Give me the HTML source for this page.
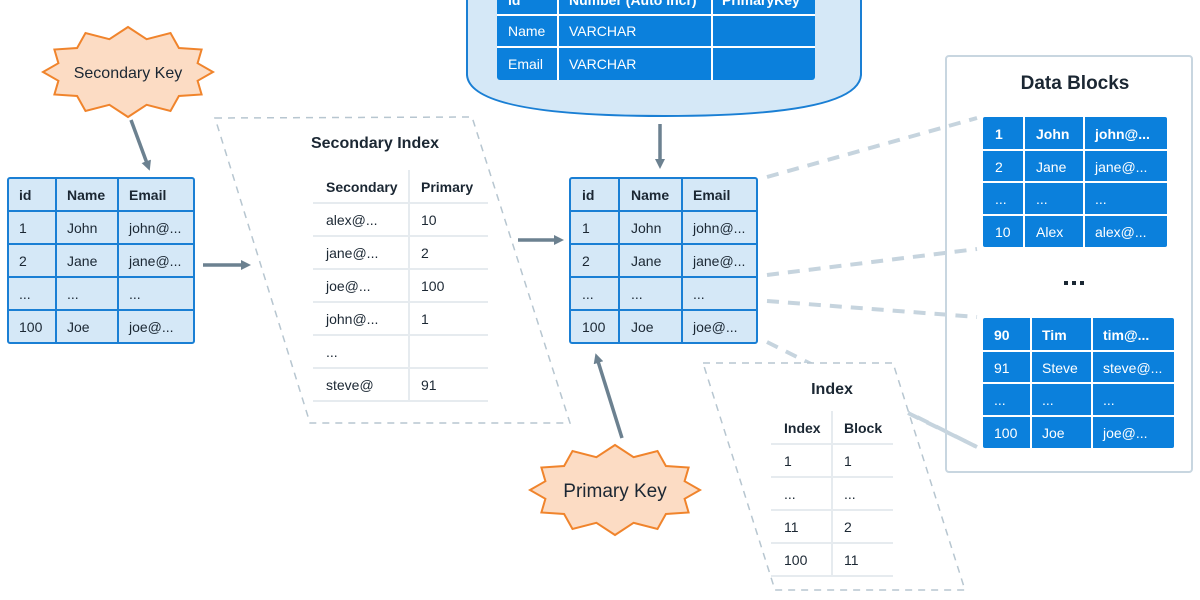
<!DOCTYPE html>
<html><head><meta charset="utf-8"><style>
html,body{margin:0;padding:0;background:#fff;}
svg{display:block;font-family:"Liberation Sans",sans-serif;}
.t{font-size:14px;fill:#1b2733;}
.b{font-weight:bold;}
.w{fill:#fff;}
</style></head><body>
<svg width="1200" height="600" viewBox="0 0 1200 600" xmlns="http://www.w3.org/2000/svg">
<defs>
<marker id="ah" markerWidth="10" markerHeight="10" refX="5" refY="5" orient="auto" markerUnits="userSpaceOnUse"><path d="M0,0 L10,5 L0,10 z" fill="#6c8190"/></marker>
</defs>

<!-- dashed connectors to data blocks -->
<g stroke="#c6d4de" stroke-width="4" stroke-dasharray="12,9" fill="none">
<line x1="767" y1="177" x2="977" y2="118"/>
<line x1="767" y1="275" x2="977" y2="249"/>
<line x1="767" y1="301" x2="977" y2="317"/>
<line x1="767" y1="342" x2="977" y2="447"/>
</g>

<!-- cylinder -->
<path d="M467,-10 L467,75 Q470,116 664,116 Q858,116 861,75 L861,-10 Z" fill="#d5e8f7" stroke="#1a7fd4" stroke-width="2"/>
<rect x="497" y="-18" width="318" height="98" rx="3" fill="#0b80dc"/>
<g stroke="#fff" stroke-width="2">
<line x1="497" y1="15" x2="815" y2="15"/><line x1="497" y1="47" x2="815" y2="47"/>
<line x1="558" y1="-18" x2="558" y2="80"/><line x1="712" y1="-18" x2="712" y2="80"/>
</g>
<g class="t w b"><text x="508" y="5" class="w b">id</text><text x="569" y="5" class="w b">Number (Auto Incr)</text><text x="722" y="5" class="w b">PrimaryKey</text></g>
<text x="508" y="36" class="t w">Name</text><text x="569" y="36" class="t w">VARCHAR</text>
<text x="508" y="69" class="t w">Email</text><text x="569" y="69" class="t w">VARCHAR</text>

<!-- secondary key star -->
<polygon id="star" points="213,72 197.6,80.8 201.6,94.5 178.9,96 170.5,111 146.6,104.8 128,117 109.4,104.8 85.5,111 77.1,96 54.4,94.5 58.4,80.8 43,72 58.4,63.2 54.4,49.5 77.1,48 85.5,33 109.4,39.2 128,27 146.6,39.2 170.5,33 178.9,48 201.6,49.5 197.6,63.2" fill="#fcdcc4" stroke="#f0842c" stroke-width="2"/>
<text x="128" y="78" class="t" text-anchor="middle" style="font-size:16px">Secondary Key</text>

<!-- primary key star -->
<g transform="translate(487,418)"><polygon points="213,72 197.6,80.8 201.6,94.5 178.9,96 170.5,111 146.6,104.8 128,117 109.4,104.8 85.5,111 77.1,96 54.4,94.5 58.4,80.8 43,72 58.4,63.2 54.4,49.5 77.1,48 85.5,33 109.4,39.2 128,27 146.6,39.2 170.5,33 178.9,48 201.6,49.5 197.6,63.2" fill="#fcdcc4" stroke="#f0842c" stroke-width="2"/></g>
<text x="615" y="497" class="t" text-anchor="middle" style="font-size:19px">Primary Key</text>

<!-- arrows -->
<g stroke="#6c8190" stroke-width="3.5" marker-end="url(#ah)">
<line x1="131" y1="120" x2="148" y2="166"/>
<line x1="203" y1="265" x2="246" y2="265"/>
<line x1="518" y1="240" x2="559" y2="240"/>
<line x1="660" y1="124" x2="660" y2="164"/>
<line x1="622" y1="438" x2="597" y2="358"/>
</g>

<!-- left table -->
<rect x="8" y="178" width="186" height="165" rx="2" fill="#d5e8f7" stroke="#1a7fd4" stroke-width="2"/>
<g stroke="#1a7fd4" stroke-width="2">
<line x1="8" y1="211" x2="194" y2="211"/><line x1="8" y1="244" x2="194" y2="244"/><line x1="8" y1="277" x2="194" y2="277"/><line x1="8" y1="310" x2="194" y2="310"/>
<line x1="56" y1="178" x2="56" y2="343"/><line x1="118" y1="178" x2="118" y2="343"/>
</g>
<g class="t">
<text x="19" y="200" class="t b">id</text><text x="67" y="200" class="t b">Name</text><text x="129" y="200" class="t b">Email</text>
<text x="19" y="233" class="t">1</text><text x="67" y="233" class="t">John</text><text x="129" y="233" class="t">john@...</text>
<text x="19" y="266" class="t">2</text><text x="67" y="266" class="t">Jane</text><text x="129" y="266" class="t">jane@...</text>
<text x="19" y="299" class="t">...</text><text x="67" y="299" class="t">...</text><text x="129" y="299" class="t">...</text>
<text x="19" y="332" class="t">100</text><text x="67" y="332" class="t">Joe</text><text x="129" y="332" class="t">joe@...</text>
</g>

<!-- secondary index parallelogram -->
<polygon points="215,118 472,117 570,423 310,423" fill="#fff" stroke="#b7c6d0" stroke-width="1.5" stroke-dasharray="7,6"/>
<text x="375" y="148" class="t b" text-anchor="middle" style="font-size:16px">Secondary Index</text>
<rect x="313" y="170" width="175" height="231" fill="#fff"/>
<g stroke="#e6ebef" stroke-width="2">
<line x1="313" y1="203" x2="488" y2="203"/><line x1="313" y1="236" x2="488" y2="236"/><line x1="313" y1="269" x2="488" y2="269"/><line x1="313" y1="302" x2="488" y2="302"/><line x1="313" y1="335" x2="488" y2="335"/><line x1="313" y1="368" x2="488" y2="368"/><line x1="313" y1="401" x2="488" y2="401"/>
<line x1="409" y1="170" x2="409" y2="401"/>
</g>
<text x="326" y="192" class="t b">Secondary</text><text x="421" y="192" class="t b">Primary</text>
<text x="326" y="225" class="t">alex@...</text><text x="421" y="225" class="t">10</text>
<text x="326" y="258" class="t">jane@...</text><text x="421" y="258" class="t">2</text>
<text x="326" y="291" class="t">joe@...</text><text x="421" y="291" class="t">100</text>
<text x="326" y="324" class="t">john@...</text><text x="421" y="324" class="t">1</text>
<text x="326" y="357" class="t">...</text>
<text x="326" y="390" class="t">steve@</text><text x="421" y="390" class="t">91</text>

<!-- middle table -->
<rect x="570" y="178" width="187" height="165" rx="2" fill="#d5e8f7" stroke="#1a7fd4" stroke-width="2"/>
<g stroke="#1a7fd4" stroke-width="2">
<line x1="570" y1="211" x2="757" y2="211"/><line x1="570" y1="244" x2="757" y2="244"/><line x1="570" y1="277" x2="757" y2="277"/><line x1="570" y1="310" x2="757" y2="310"/>
<line x1="619" y1="178" x2="619" y2="343"/><line x1="682" y1="178" x2="682" y2="343"/>
</g>
<text x="582" y="200" class="t b">id</text><text x="631" y="200" class="t b">Name</text><text x="693" y="200" class="t b">Email</text>
<text x="582" y="233" class="t">1</text><text x="631" y="233" class="t">John</text><text x="693" y="233" class="t">john@...</text>
<text x="582" y="266" class="t">2</text><text x="631" y="266" class="t">Jane</text><text x="693" y="266" class="t">jane@...</text>
<text x="582" y="299" class="t">...</text><text x="631" y="299" class="t">...</text><text x="693" y="299" class="t">...</text>
<text x="582" y="332" class="t">100</text><text x="631" y="332" class="t">Joe</text><text x="693" y="332" class="t">joe@...</text>

<!-- index parallelogram -->
<polygon points="703,363 893,363 965,590 775,590" fill="#fff" stroke="#b7c6d0" stroke-width="1.5" stroke-dasharray="7,6"/>
<line x1="908" y1="413" x2="977" y2="447" stroke="#c6d4de" stroke-width="4" stroke-dasharray="12,9"/>
<text x="832" y="394" class="t b" text-anchor="middle" style="font-size:16px">Index</text>
<rect x="771" y="411" width="122" height="165" fill="#fff"/>
<g stroke="#e6ebef" stroke-width="2">
<line x1="771" y1="444" x2="893" y2="444"/><line x1="771" y1="477" x2="893" y2="477"/><line x1="771" y1="510" x2="893" y2="510"/><line x1="771" y1="543" x2="893" y2="543"/><line x1="771" y1="576" x2="893" y2="576"/>
<line x1="832" y1="411" x2="832" y2="576"/>
</g>
<text x="784" y="433" class="t b">Index</text><text x="844" y="433" class="t b">Block</text>
<text x="784" y="466" class="t">1</text><text x="844" y="466" class="t">1</text>
<text x="784" y="499" class="t">...</text><text x="844" y="499" class="t">...</text>
<text x="784" y="532" class="t">11</text><text x="844" y="532" class="t">2</text>
<text x="784" y="565" class="t">100</text><text x="844" y="565" class="t">11</text>

<!-- data blocks box -->
<rect x="946" y="56" width="246" height="416" rx="3" fill="none" stroke="#c8d6e0" stroke-width="2"/>
<text x="1075" y="89" class="t b" text-anchor="middle" style="font-size:19px">Data Blocks</text>

<rect x="983" y="117" width="184" height="130" rx="2" fill="#0b80dc"/>
<g stroke="#fff" stroke-width="2">
<line x1="983" y1="150" x2="1167" y2="150"/><line x1="983" y1="182" x2="1167" y2="182"/><line x1="983" y1="215" x2="1167" y2="215"/>
<line x1="1024" y1="117" x2="1024" y2="247"/><line x1="1084" y1="117" x2="1084" y2="247"/>
</g>
<text x="995" y="139" class="t w b">1</text><text x="1036" y="139" class="t w b">John</text><text x="1095" y="139" class="t w b">john@...</text>
<text x="995" y="172" class="t w">2</text><text x="1036" y="172" class="t w">Jane</text><text x="1095" y="172" class="t w">jane@...</text>
<text x="995" y="204" class="t w">...</text><text x="1036" y="204" class="t w">...</text><text x="1095" y="204" class="t w">...</text>
<text x="995" y="237" class="t w">10</text><text x="1036" y="237" class="t w">Alex</text><text x="1095" y="237" class="t w">alex@...</text>

<g fill="#1b2733"><rect x="1064" y="281" width="4" height="4"/><rect x="1072" y="281" width="4" height="4"/><rect x="1080" y="281" width="4" height="4"/></g>

<rect x="983" y="318" width="191" height="130" rx="2" fill="#0b80dc"/>
<g stroke="#fff" stroke-width="2">
<line x1="983" y1="351" x2="1174" y2="351"/><line x1="983" y1="383" x2="1174" y2="383"/><line x1="983" y1="416" x2="1174" y2="416"/>
<line x1="1031" y1="318" x2="1031" y2="448"/><line x1="1092" y1="318" x2="1092" y2="448"/>
</g>
<text x="994" y="340" class="t w b">90</text><text x="1042" y="340" class="t w b">Tim</text><text x="1103" y="340" class="t w b">tim@...</text>
<text x="994" y="373" class="t w">91</text><text x="1042" y="373" class="t w">Steve</text><text x="1103" y="373" class="t w">steve@...</text>
<text x="994" y="405" class="t w">...</text><text x="1042" y="405" class="t w">...</text><text x="1103" y="405" class="t w">...</text>
<text x="994" y="438" class="t w">100</text><text x="1042" y="438" class="t w">Joe</text><text x="1103" y="438" class="t w">joe@...</text>
</svg>
</body></html>
